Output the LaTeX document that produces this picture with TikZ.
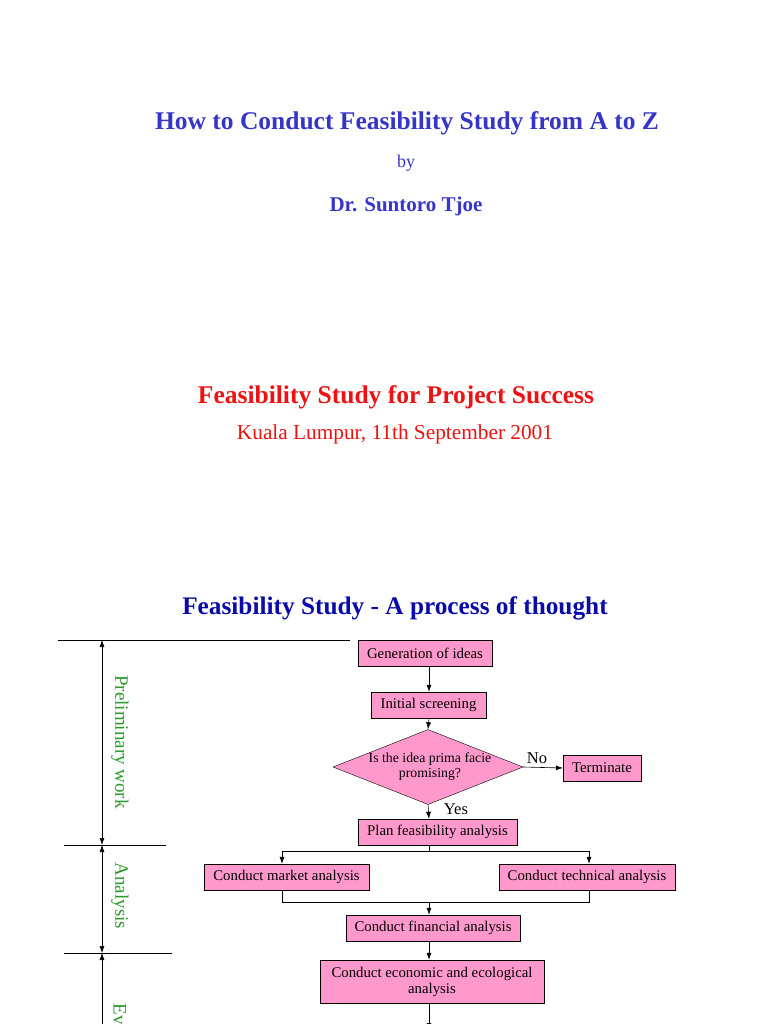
\documentclass[tikz,border=0pt]{standalone}
\usepackage{fontspec}
\setmainfont{Liberation Serif}
\usetikzlibrary{shapes.geometric,arrows.meta}
\definecolor{tblue}{HTML}{3535C8}
\definecolor{sblue}{HTML}{0A0AAA}
\definecolor{tred}{HTML}{EE1111}
\definecolor{tgreen}{HTML}{2A9A2A}
\definecolor{pink}{HTML}{FF99CC}
\begin{document}
\begin{tikzpicture}[x=1pt,y=-1pt,
  box/.style={draw,fill=pink,font=\fontsize{14.8}{16}\selectfont,inner sep=0pt,minimum height=26pt,align=center},
  arr/.style={-{Latex[length=7pt,width=5pt]},line width=0.6pt},
  ln/.style={line width=0.6pt},
  side/.style={rotate=-90,text=tgreen,font=\fontsize{19}{20}\selectfont}]
\useasboundingbox (0,0) rectangle (768,1024);
\clip (0,0) rectangle (768,1024);
\node[text=tblue,font=\bfseries\fontsize{25.5}{28}\selectfont] (t1) at (407,123) {How to Conduct Feasibility Study from A to Z};
\node[text=tblue,font=\fontsize{18}{20}\selectfont] (t2) at (406,163) {by};
\node[text=tblue,font=\bfseries\fontsize{21}{24}\selectfont] (t3) at (406,206) {Dr. Suntoro Tjoe};
\node[text=tred,font=\bfseries\fontsize{25.5}{28}\selectfont] (t4) at (396,397) {Feasibility Study for Project Success};
\node[text=tred,font=\fontsize{21.3}{24}\selectfont] (t5) at (395,434) {Kuala Lumpur, 11th September 2001};
\node[text=sblue,font=\bfseries\fontsize{25.3}{28}\selectfont] (t6) at (395,608) {Feasibility Study - A process of thought};

\node[box,minimum width=134pt] (gen) at (425,653) {Generation of ideas};
\node[box,minimum width=115pt] (ini) at (428.5,705) {Initial screening};
\node[draw,fill=pink,diamond,aspect=2.53,minimum width=190pt,minimum height=75pt,inner sep=0pt] (dia) at (428,767) {};
\node[align=center,inner sep=0pt,font=\fontsize{13.8}{15}\selectfont] (diat) at (430,767) {Is the idea prima facie\\promising?};
\node[box,minimum width=78pt] (ter) at (602,768) {Terminate};
\node[box,minimum width=159pt] (pla) at (437.5,832) {Plan feasibility analysis};
\node[box,minimum width=165pt] (mar) at (286.5,877) {Conduct market analysis};
\node[box,minimum width=176pt] (tec) at (587,877) {Conduct technical analysis};
\node[box,minimum width=174pt] (fin) at (433,928) {Conduct financial analysis};
\node[box,minimum width=224pt,minimum height=43pt] (eco) at (432,981.5) {Conduct economic and ecological\\analysis};

\coordinate (x0) at (429,0);
\draw[arr] (gen.south -| x0) -- (ini.north -| x0);
\draw[arr] (ini.south -| x0) -- (dia.north);
\draw[arr] (dia.east) -- (ter.west) node[pos=0.35,above,font=\fontsize{16.5}{18}\selectfont] {No};
\draw[arr] (dia.south) -- (pla.north -| x0) node[pos=0.3,right=12pt,font=\fontsize{16.5}{18}\selectfont] {Yes};
\coordinate (b1) at (429,851);
\coordinate (ml) at (282,0);
\coordinate (tr) at (589,0);
\draw[ln] (pla.south -| x0) -- (b1);
\draw[arr] (b1) -| (mar.north -| ml);
\draw[arr] (b1) -| (tec.north -| tr);
\coordinate (b2) at (429,902);
\draw[ln] (mar.south -| ml) |- (b2);
\draw[ln] (tec.south -| tr) |- (b2);
\draw[arr] (b2) -- (fin.north -| x0);
\draw[arr] (fin.south -| x0) -- (eco.north -| x0);
\coordinate (end) at (429,1030);
\draw[arr] (eco.south -| x0) -- (end);

\coordinate (l1a) at (58,640); \coordinate (l1b) at (350,640);
\coordinate (l2a) at (64,845); \coordinate (l2b) at (166,845);
\coordinate (l3a) at (64,953); \coordinate (l3b) at (172,953);
\coordinate (v1) at (102,640); \coordinate (v2) at (102,845); \coordinate (v3) at (102,953); \coordinate (v4) at (102,1030);
\draw[ln] (l1a) -- (l1b);
\draw[ln] (l2a) -- (l2b);
\draw[ln] (l3a) -- (l3b);
\draw[{Latex[length=7pt,width=5pt]}-{Latex[length=7pt,width=5pt]},line width=0.6pt] (v1) -- (v2);
\draw[{Latex[length=7pt,width=5pt]}-{Latex[length=7pt,width=5pt]},line width=0.6pt] (v2) -- (v3);
\draw[{Latex[length=7pt,width=5pt]}-,line width=0.6pt] (v3) -- (v4);
\node[side] (s1) at (120,742) {Preliminary work};
\node[side] (s2) at (120,896) {Analysis};
\node[side,anchor=west] (s3) at (120,1000) {Evaluation};
\end{tikzpicture}
\end{document}
